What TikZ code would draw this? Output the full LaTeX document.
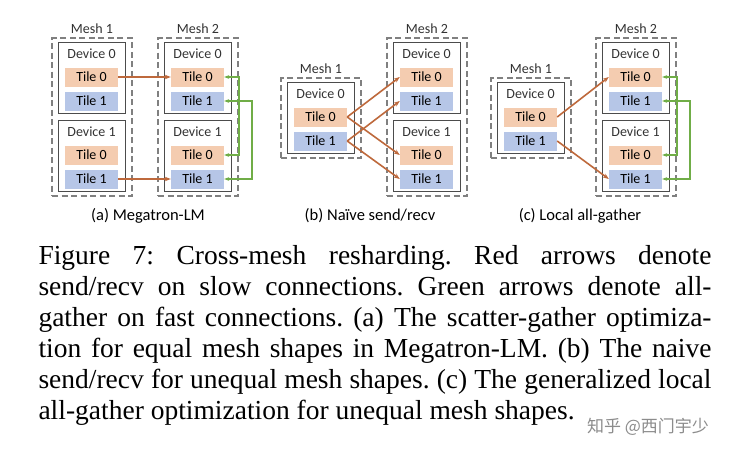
\documentclass[tikz,border=0pt]{standalone}
\usepackage{fontspec}
\setmainfont{Liberation Serif}
\newfontfamily\carl{Carlito}
\newfontfamily\cjk{Noto Sans CJK SC}
\usetikzlibrary{fit,arrows.meta}
\definecolor{tor}{RGB}{244,204,176}
\definecolor{tbl}{RGB}{182,198,231}
\definecolor{red1}{RGB}{190,105,60}
\definecolor{grn}{RGB}{112,173,71}
\tikzset{
 dev/.style={draw=black!70,line width=1pt,minimum width=67pt,minimum height=71pt,inner sep=0,anchor=north west},
 t0/.style={fill=tor,minimum width=53pt,minimum height=19pt,inner sep=0,font=\carl\fontsize{14}{14}\selectfont},
 t1/.style={t0,fill=tbl},
 lab/.style={font=\carl\fontsize{14}{14}\selectfont,text=black!80},
 mesh/.style={draw=black!50,dash pattern=on 6pt off 3.5pt,line width=1.4pt,inner xsep=6pt,inner ysep=4pt},
 ra/.style={draw=red1,line width=1.6pt,-{Stealth[length=6pt]}},
 ga/.style={draw=grn,line width=1.6pt,{Stealth[length=5pt]}-{Stealth[length=5pt]}},
 subcap/.style={font=\carl\fontsize{16.5}{16.5}\selectfont},
 capline/.style={anchor=base west,font=\fontsize{27.5}{31}\selectfont\frenchspacing}
}
\newcommand\mkdev[4]{% name, x, y, label
 \node[dev] (#1) at (#2,#3) {};
 \node[lab] (#1l) at (#2+33.5,#3+12) {#4};
 \node[t0] (#1t0) at (#2+33.5,#3+35) {Tile 0};
 \node[t1] (#1t1) at (#2+33.5,#3+59) {Tile 1};
}
\begin{document}
\begin{tikzpicture}[x=1pt,y=-1pt]
\useasboundingbox (0,0) rectangle (750,455);
\fill[white] (0,0) rectangle (750,455);
% (a)
\mkdev{aa}{58}{42}{Device 0}
\mkdev{ab}{58}{120}{Device 1}
\mkdev{ac}{164}{42}{Device 0}
\mkdev{ad}{164}{120}{Device 1}
\node[mesh,fit=(aa)(ab)] (am1) {};
\node[mesh,fit=(ac)(ad)] (am2) {};
\node[lab,above=0pt] (am1l) at (am1.north) {Mesh 1};
\node[lab,above=0pt] (am2l) at (am2.north) {Mesh 2};
\draw[ra] (aat0) -- (act0);
\draw[ra] (abt1) -- (adt1);
\draw[ga] (act0.east) -- ++(15,0) |- (adt0.east);
\draw[ga] (act1.east) -- ++(28,0) |- (adt1.east);
\node[subcap] (capa) at (148,216) {(a) Megatron-LM};
% (b)
\mkdev{ba}{287}{82}{Device 0}
\mkdev{bc}{393}{42}{Device 0}
\mkdev{bd}{393}{120}{Device 1}
\node[mesh,fit=(ba)] (bm1) {};
\node[mesh,fit=(bc)(bd)] (bm2) {};
\node[lab,above=0pt] (bm1l) at (bm1.north) {Mesh 1};
\node[lab,above=0pt] (bm2l) at (bm2.north) {Mesh 2};
\draw[ra] (bat0.east) -- (bct0.west);
\draw[ra] (bat0.east) -- (bdt0.west);
\draw[ra] (bat1.east) -- (bct1.west);
\draw[ra] (bat1.east) -- (bdt1.west);
\node[subcap] (capb) at (370,216) {(b) Naïve send/recv};
% (c)
\mkdev{ca}{497}{82}{Device 0}
\mkdev{cc}{602}{42}{Device 0}
\mkdev{cd}{602}{120}{Device 1}
\node[mesh,fit=(ca)] (cm1) {};
\node[mesh,fit=(cc)(cd)] (cm2) {};
\node[lab,above=0pt] (cm1l) at (cm1.north) {Mesh 1};
\node[lab,above=0pt] (cm2l) at (cm2.north) {Mesh 2};
\draw[ra] (cat0.east) -- (cct0.west);
\draw[ra] (cat1.east) -- (cdt1.west);
\draw[ga] (cct0.east) -- ++(15,0) |- (cdt0.east);
\draw[ga] (cct1.east) -- ++(28,0) |- (cdt1.east);
\node[subcap] (capc) at (580,216) {(c) Local all-gather};
% caption
\node[capline] (l1) at (35,264) {\hbox to 673pt{Figure 7: Cross-mesh resharding. Red arrows denote}};
\node[capline] (l2) at (35,295) {\hbox to 673pt{send/recv on slow connections. Green arrows denote all-}};
\node[capline] (l3) at (35,326) {\hbox to 673pt{gather on fast connections. (a) The scatter-gather optimiza-}};
\node[capline] (l4) at (35,357) {\hbox to 673pt{tion for equal mesh shapes in Megatron-LM. (b) The naive}};
\node[capline] (l5) at (35,388) {\hbox to 673pt{send/recv for unequal mesh shapes. (c) The generalized local}};
\node[capline] (l6) at (35,419) {all-gather optimization for unequal mesh shapes.};
\node[font=\cjk\fontsize{17}{17}\selectfont,text=black!45] (wm) at (648,427) {知乎 @西门宇少};
\end{tikzpicture}
\end{document}
